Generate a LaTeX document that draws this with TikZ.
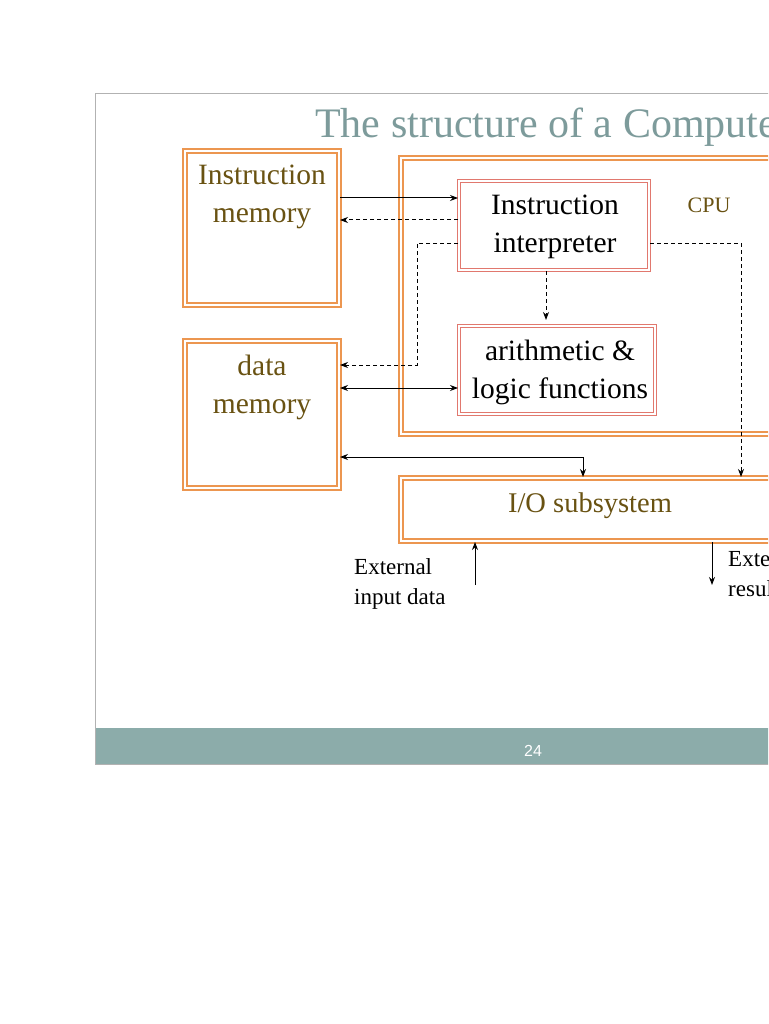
\documentclass[tikz,border=0pt]{standalone}
\usepackage{fontspec}
\setmainfont{Liberation Serif}
\newfontfamily\sansf{Liberation Sans}
\usetikzlibrary{arrows.meta}
\definecolor{ttl}{RGB}{125,155,155}
\definecolor{bar}{RGB}{140,172,170}
\definecolor{brn}{RGB}{105,82,18}
\definecolor{org}{RGB}{236,150,80}
\definecolor{pnk}{RGB}{225,120,110}
\tikzset{
 obox/.style={draw=org,double=white,double distance=2pt,line width=1.6pt},
 pbox/.style={draw=pnk,double=white,double distance=2pt,line width=1.4pt},
 con/.style={-{Stealth[length=8pt,width=6pt]},line width=1pt},
 dcon/.style={con,dash pattern=on 4pt off 3pt},
 bcon/.style={{Stealth[length=8pt,width=6pt]}-{Stealth[length=8pt,width=6pt]},line width=1pt},
 lbl/.style={inner sep=0pt,align=center,font=\fontsize{29.5}{38}\selectfont}
}
\begin{document}
\begin{tikzpicture}[x=1pt,y=-1pt]
\useasboundingbox (0,0) rectangle (768,1024);
\clip (0,0) rectangle (768,1024);
\fill[white] (0,0) rectangle (768,1024);
\draw[gray!60,line width=0.6pt] (95.5,93.5) rectangle (800,764);
\fill[bar] (95.5,728) rectangle (800,764);
\node[text=white,font=\sansf\fontsize{16}{18}\selectfont] (pg) at (533,751) {24};
\node[anchor=west,text=ttl,font=\fontsize{42}{44}\selectfont,inner sep=0pt] (title) at (315,127) {The structure of a Computer};
% boxes
\draw[obox] (185,151) rectangle (339,305);
\node[lbl,text=brn] (imt) at (262,197) {Instruction\\memory};
\draw[obox] (185,341) rectangle (339,488);
\node[lbl,text=brn] (dmt) at (262,387) {data\\memory};
\draw[obox] (401,158) rectangle (820,434);
\node[text=brn,font=\fontsize{22}{24}\selectfont,inner sep=0pt] (cpu) at (709,205) {CPU};
\draw[pbox] (459,181) rectangle (649,270);
\node[lbl] (ii) at (555,227) {Instruction\\interpreter};
\draw[pbox] (459,326) rectangle (655,414);
\node[lbl] (alu) at (560,372) {arithmetic \&\\logic functions};
\draw[obox] (401,478) rectangle (820,541);
\node[text=brn,font=\fontsize{28.5}{30}\selectfont,inner sep=0pt] (io) at (590,506) {I/O subsystem};
% connectors
\coordinate (a1) at (340,198); \coordinate (a2) at (458,198);
\draw[con] (a1) -- (a2);
\coordinate (b1) at (458,220); \coordinate (b2) at (340,220);
\draw[dcon] (b1) -- (b2);
\coordinate (c1) at (458,243); \coordinate (c2) at (340,365);
\draw[dcon] (c1) -- (417,243) -- (417,365) -- (c2);
\coordinate (d1) at (340,388); \coordinate (d2) at (458,388);
\draw[bcon] (d1) -- (d2);
\coordinate (e1) at (546,271); \coordinate (e2) at (546,320);
\draw[dcon] (e1) -- (e2);
\coordinate (f1) at (650,243); \coordinate (f2) at (741,477);
\draw[dcon] (f1) -- (741,243) -- (f2);
\coordinate (g1) at (340,457); \coordinate (g2) at (583,477);
\draw[bcon] (g1) -- (583,457) -- (g2);
\coordinate (h1) at (475,585); \coordinate (h2) at (475,542);
\draw[con] (h1) -- (h2);
\coordinate (k1) at (712,542); \coordinate (k2) at (712,585);
\draw[con] (k1) -- (k2);
\node[anchor=north west,align=left,inner sep=0pt,font=\fontsize{23}{30}\selectfont] (ein) at (354,558) {External\\input data};
\node[anchor=north west,align=left,inner sep=0pt,font=\fontsize{23}{30}\selectfont] (eout) at (728,550) {External\\results};
\end{tikzpicture}
\end{document}
